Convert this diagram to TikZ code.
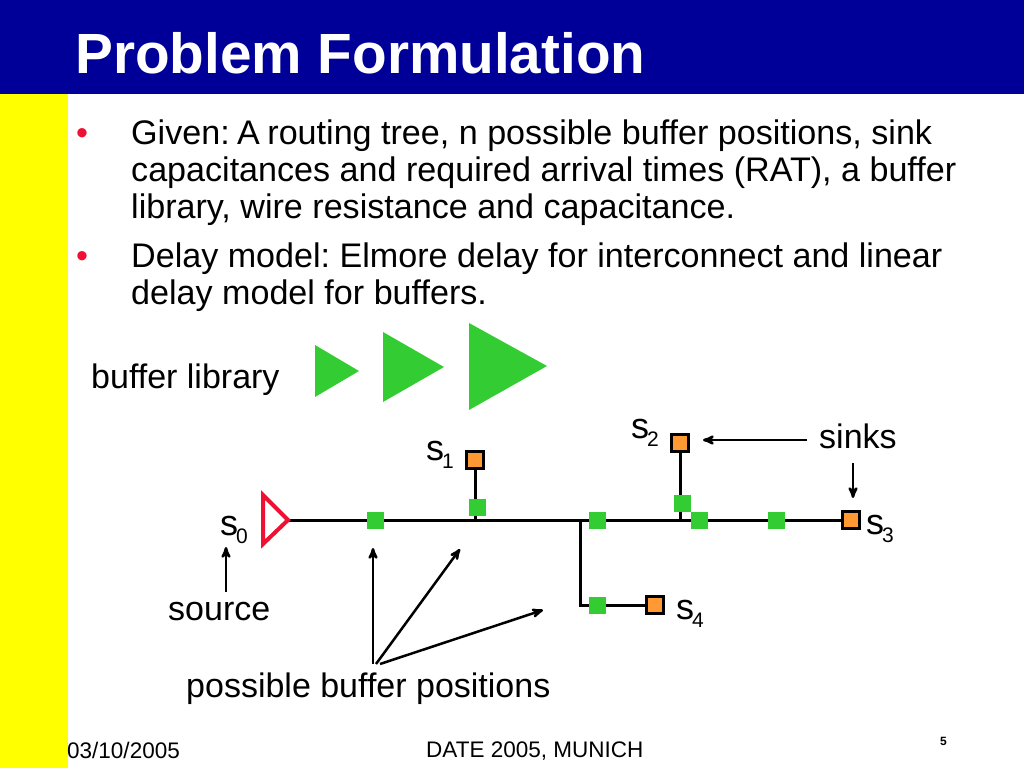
\documentclass[tikz,border=0pt]{standalone}
\usepackage{fontspec}
\setmainfont{Liberation Sans}
\usetikzlibrary{arrows}
\definecolor{slideblue}{HTML}{000099}
\definecolor{slideyellow}{HTML}{FFFF00}
\definecolor{bufgreen}{HTML}{33CC33}
\definecolor{sinkorange}{HTML}{FF9933}
\definecolor{srcred}{HTML}{EE1133}
\newcommand{\snum}[1]{\fontsize{36}{36}\selectfont s\kern-2pt\raisebox{-8pt}{\fontsize{21}{21}\selectfont #1}}
\frenchspacing
\tikzset{
	textnode/.style = {
		inner sep=0pt,
		anchor=base west,
		align=left
	},
	node_body/.style = {
		textnode,
		font=\fontsize{34.1}{37}\selectfont
	},
	node_label/.style = {
		textnode,
		font=\fontsize{34}{36}\selectfont
	},
	node_foot/.style = {
		textnode,
		font=\fontsize{22.5}{24}\selectfont
	},
	node_buf/.style = {
		rectangle,
		inner sep=0pt,
		fill=bufgreen,
		minimum width=17,
		minimum height=17
	},
	node_sink/.style = {
		rectangle,
		inner sep=0pt,
		draw=black,
		line width=3,
		fill=sinkorange,
		minimum width=17,
		minimum height=17
	},
	node_lib/.style = {
		fill=bufgreen
	},
	wire/.style = {
		line width=3,
		black
	},
	pointer/.style = {
		->,
		>=stealth',
		line width=2.5,
		black
	},
}
\begin{document}
\begin{tikzpicture}[x=1pt,y=-1pt]
\useasboundingbox (0,0) rectangle (1024,768);
% slide background
\fill[white] (0,0) rectangle (1024,768);
\fill[slideyellow] (0,94) rectangle (68,768);
\fill[slideblue] (0,0) rectangle (1024,94);
\node [textnode, white, font=\fontsize{56.7}{56.7}\selectfont\bfseries] (title) at (75,74) {Problem Formulation};
% text
\node [node_body, srcred] (bullet1) at (76,144) {•};
\node [node_body] (given) at (131,218) {Given:\kern-2pt{} A\kern-2pt{} routing tree, n possible buffer positions, sink\\capacitances and required arrival times (RAT), a buffer\\library, wire resistance and capacitance.};
\node [node_body, srcred] (bullet2) at (76,267) {•};
\node [node_body] (delay) at (131,304) {Delay model: Elmore delay for interconnect and linear\\delay model for buffers.};
% buffer library
\node [node_label] (library) at (91,388) {buffer library};
\fill[node_lib] (315,345) -- (359,371) -- (315,397) -- cycle;
\fill[node_lib] (383,332) -- (444,367) -- (383,402) -- cycle;
\fill[node_lib] (469,323) -- (547,366) -- (469,410) -- cycle;
% tree
\coordinate (root) at (288,520);
\coordinate (tap1) at (475,520);
\coordinate (tap2) at (580,520);
\coordinate (tap3) at (680,520);
\coordinate (corner) at (580,605);
\node [node_sink] (s1) at (475,460) {};
\node [node_sink] (s2) at (680,443) {};
\node [node_sink] (s3) at (851,520) {};
\node [node_sink] (s4) at (654.5,605) {};
\draw[wire] (root) -- (s3);
\draw[wire] (tap1) -- (s1);
\draw[wire] (tap3) -- (s2);
\draw[wire] (tap2) -- (corner) -- (s4);
\draw[srcred, line width=4, miter limit=10] (263,495) -- (root) -- (263,544) -- cycle;
\foreach \name/\x/\y in {b1/375/520, b2/477.5/507, b3/597/520, b4/682.5/503, b5/699.5/520, b6/776.5/520, b7/597/605} {
	\node [node_buf] (\name) at (\x,\y) {};
}
% labels
\node [textnode] (l0) at (220,535) {\snum{0}};
\node [textnode] (l1) at (426,460) {\snum{1}};
\node [textnode] (l2) at (631,438) {\snum{2}};
\node [textnode] (l3) at (866,534) {\snum{3}};
\node [textnode] (l4) at (676,619) {\snum{4}};
\node [node_label] (source) at (168,620) {source};
\node [node_label] (sinks) at (819,448) {sinks};
\node [node_label] (positions) at (186,697) {possible buffer positions};
% pointers
\coordinate (srcarrow) at (226,592);
\coordinate (srctip) at (226,547);
\draw[pointer] (srcarrow) -- (srctip);
\coordinate (posa) at (373,664);
\coordinate (posb) at (376,664);
\coordinate (posc) at (380,664);
\coordinate (tipa) at (373,548);
\coordinate (tipb) at (460,549);
\coordinate (tipc) at (543,610);
\draw[pointer] (posa) -- (tipa);
\draw[pointer] (posb) -- (tipb);
\draw[pointer] (posc) -- (tipc);
\coordinate (sinka) at (807,440);
\coordinate (sinkb) at (703,440);
\coordinate (sinkc) at (853,463);
\coordinate (sinkd) at (853,498);
\draw[pointer] (sinka) -- (sinkb);
\draw[pointer] (sinkc) -- (sinkd);
% footer
\node [node_foot] (date) at (67,758) {03/10/2005};
\node [node_foot] (place) at (426,757) {DATE 2005, MUNICH};
\node [textnode, font=\fontsize{12}{12}\selectfont\bfseries] (page) at (940,745) {5};
\end{tikzpicture}
\end{document}
